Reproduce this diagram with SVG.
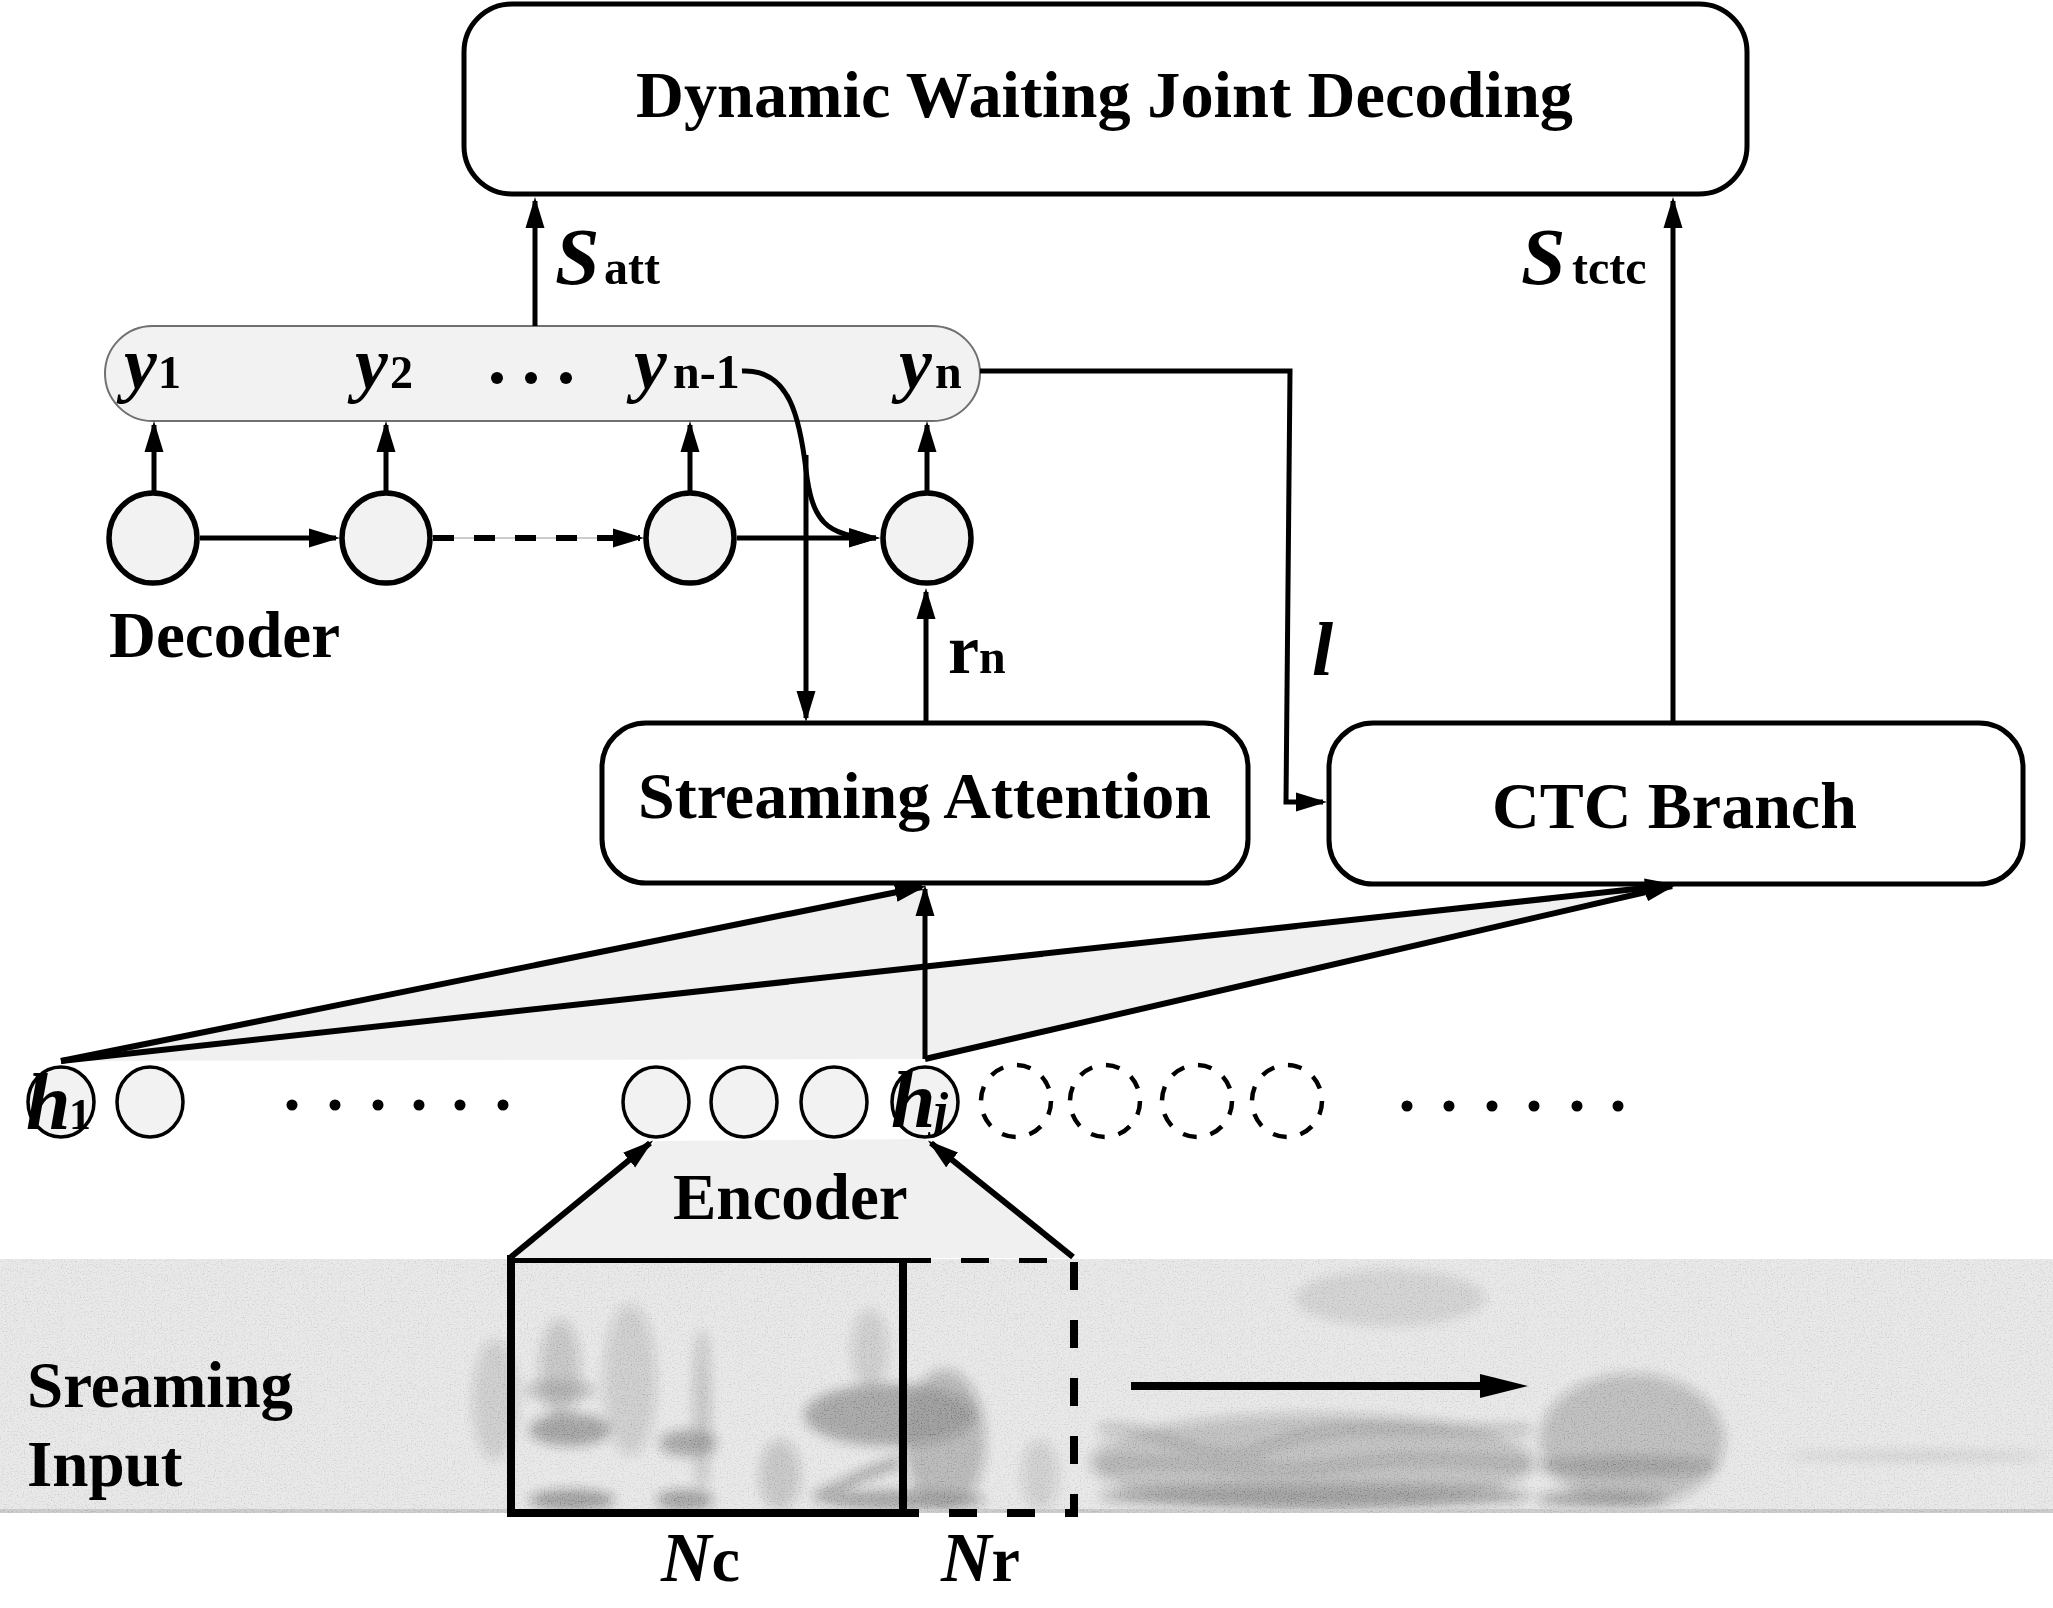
<svg xmlns="http://www.w3.org/2000/svg" width="2053" height="1608" viewBox="0 0 2053 1608">
<style>
text{font-family:"Liberation Serif","Times New Roman",serif;font-weight:bold;fill:#000}
.it{font-style:italic}
.box{fill:#fff;stroke:#000;stroke-width:5}
.dec{fill:#f2f2f2;stroke:#000;stroke-width:5.5}
.enc{fill:#f2f2f2;stroke:#000;stroke-width:3.5}
.encd{fill:#fff;stroke:#000;stroke-width:4.5;stroke-dasharray:14 14}
.ln{fill:none;stroke:#000;stroke-width:5}
.fan{fill:none;stroke:#000;stroke-width:6}
.arr{marker-end:url(#ah)}
.sp{fill:#1e1e1e}
.sl{fill:none;stroke:#1e1e1e}
</style>
<defs>
<marker id="ah" markerUnits="userSpaceOnUse" markerWidth="34" markerHeight="22" refX="27" refY="10" orient="auto"><path d="M0,0.5 L31,10 L0,19.5 z" fill="#000"/></marker>
<filter id="noise" x="0" y="0" width="100%" height="100%">
<feTurbulence type="fractalNoise" baseFrequency="0.7" numOctaves="2" seed="11" result="t"/>
<feColorMatrix in="t" type="matrix" values="1.8 0 0 0 0.1  1.8 0 0 0 0.1  1.8 0 0 0 0.1  0 0 0 0 0.32" result="g"/>
<feComposite in="g" in2="SourceGraphic" operator="in" result="gc"/>
<feMerge><feMergeNode in="SourceGraphic"/><feMergeNode in="gc"/></feMerge>
</filter>
<filter id="blur" x="-20%" y="-20%" width="140%" height="140%"><feGaussianBlur stdDeviation="6"/></filter>
<clipPath id="band"><rect x="0" y="1259" width="2053" height="254"/></clipPath>
</defs>

<g id="spectrogram" filter="url(#noise)" clip-path="url(#band)">
<rect x="0" y="1259" width="2053" height="254" fill="#dedede"/>
<g filter="url(#blur)">
<ellipse class="sp" cx="495" cy="1400" rx="22" ry="60" opacity="0.22"/>
<ellipse class="sp" cx="560" cy="1370" rx="20" ry="50" opacity="0.28"/>
<ellipse class="sp" cx="570" cy="1430" rx="40" ry="15" opacity="0.65"/>
<ellipse class="sp" cx="560" cy="1390" rx="35" ry="8" opacity="0.4"/>
<ellipse class="sp" cx="572" cy="1500" rx="42" ry="9" opacity="0.75"/>
<ellipse class="sp" cx="630" cy="1380" rx="26" ry="75" opacity="0.22"/>
<ellipse class="sp" cx="688" cy="1443" rx="28" ry="12" opacity="0.6"/>
<ellipse class="sp" cx="685" cy="1500" rx="28" ry="9" opacity="0.7"/>
<ellipse class="sp" cx="702" cy="1410" rx="8" ry="80" opacity="0.3"/>
<ellipse class="sp" cx="780" cy="1475" rx="20" ry="35" opacity="0.28"/>
<path class="sl" d="M815,1498 C845,1485 870,1470 900,1462" stroke-width="9" opacity="0.65"/>
<ellipse class="sp" cx="890" cy="1415" rx="85" ry="30" opacity="0.6"/>
<ellipse class="sp" cx="905" cy="1500" rx="80" ry="9" opacity="0.65"/>
<ellipse class="sp" cx="945" cy="1440" rx="40" ry="70" opacity="0.4"/>
<ellipse class="sp" cx="870" cy="1350" rx="18" ry="40" opacity="0.22"/>
<ellipse class="sp" cx="1040" cy="1475" rx="18" ry="35" opacity="0.2"/>
<ellipse class="sp" cx="1312" cy="1462" rx="222" ry="48" opacity="0.32"/>
<path class="sl" d="M1100,1430 C1160,1420 1200,1470 1260,1450 C1320,1420 1400,1430 1530,1430" stroke-width="8" opacity="0.4"/>
<path class="sl" d="M1100,1465 C1200,1455 1260,1480 1340,1465 C1420,1455 1470,1460 1530,1465" stroke-width="8" opacity="0.4"/>
<ellipse class="sp" cx="1315" cy="1496" rx="215" ry="11" opacity="0.6"/>
<ellipse class="sp" cx="1632" cy="1440" rx="92" ry="66" opacity="0.35"/>
<ellipse class="sp" cx="1627" cy="1466" rx="90" ry="9" opacity="0.55"/>
<ellipse class="sp" cx="1602" cy="1499" rx="65" ry="7" opacity="0.65"/>
<ellipse class="sp" cx="1390" cy="1298" rx="95" ry="28" opacity="0.15"/>
<ellipse class="sp" cx="1917" cy="1456" rx="131" ry="3" opacity="0.25"/>
</g>
<rect x="0" y="1509" width="2053" height="4" fill="#b0b0b0"/>
</g>

<g id="streaming-input-label">
<text x="27" y="1407" font-size="65">Sreaming</text>
<text x="27" y="1486" font-size="65">Input</text>
</g>

<g id="nc-window">
<rect x="511" y="1259" width="392" height="254" fill="none" stroke="#000" stroke-width="8"/>
<text y="1581"><tspan class="it" x="661" font-size="70">N</tspan><tspan font-size="64">c</tspan></text>
</g>
<g id="nr-window">
<path d="M903,1259 L1074,1259 L1074,1513 L903,1513" fill="none" stroke="#000" stroke-width="8" stroke-dasharray="28 30"/>
<text y="1581"><tspan class="it" x="941" font-size="70">N</tspan><tspan font-size="64">r</tspan></text>
</g>
<g id="stream-arrow">
<line x1="1131" y1="1386" x2="1482" y2="1386" stroke="#000" stroke-width="8"/>
<path d="M1480,1374 L1528,1386 L1480,1398 z" fill="#000"/>
</g>

<g id="encoder">
<path d="M511,1258 L656,1141 L925,1139 L1073,1258 z" fill="#f0f0f0"/>
<text x="673" y="1219" font-size="65">Encoder</text>
</g>

<g id="fan-fill">
<path d="M61,1061 L925,886 L925,967 L1675,885 L925,1059 z" fill="#f0f0f0"/>
</g>

<g id="encoder-states">
<ellipse id="h1" class="enc" cx="61" cy="1102" rx="33" ry="35"/>
<text y="1129"><tspan class="it" x="26" font-size="80">h</tspan><tspan x="69" font-size="44">1</tspan></text>
<ellipse class="enc" cx="150" cy="1102" rx="33" ry="35"/>
<g fill="#000"><circle cx="292" cy="1105" r="5.5"/><circle cx="335" cy="1105" r="5.5"/><circle cx="378" cy="1105" r="5.5"/><circle cx="419" cy="1105" r="5.5"/><circle cx="460" cy="1105" r="5.5"/><circle cx="503" cy="1105" r="5.5"/></g>
<ellipse class="enc" cx="656" cy="1102" rx="33" ry="35"/>
<ellipse class="enc" cx="744" cy="1102" rx="33" ry="35"/>
<ellipse class="enc" cx="834" cy="1102" rx="33" ry="35"/>
<ellipse id="hj" class="enc" cx="925" cy="1102" rx="33" ry="35"/>
<text y="1127"><tspan class="it" x="891" font-size="80">h</tspan><tspan class="it" x="934" font-size="50">j</tspan></text>
<ellipse class="encd" cx="1016" cy="1101" rx="35" ry="36"/>
<ellipse class="encd" cx="1105" cy="1101" rx="35" ry="36"/>
<ellipse class="encd" cx="1197" cy="1101" rx="35" ry="36"/>
<ellipse class="encd" cx="1287" cy="1101" rx="35" ry="36"/>
<g fill="#000"><circle cx="1407" cy="1106" r="5.5"/><circle cx="1449" cy="1106" r="5.5"/><circle cx="1492" cy="1106" r="5.5"/><circle cx="1534" cy="1106" r="5.5"/><circle cx="1577" cy="1106" r="5.5"/><circle cx="1618" cy="1106" r="5.5"/></g>
</g>

<g id="title-box">
<rect class="box" x="464" y="4" width="1283" height="190" rx="48"/>
<text x="636" y="117" font-size="65" textLength="937" lengthAdjust="spacingAndGlyphs">Dynamic Waiting Joint Decoding</text>
</g>

<g id="streaming-attention">
<rect class="box" x="602" y="723" width="646" height="160" rx="44"/>
<text x="638" y="818" font-size="65" textLength="573" lengthAdjust="spacingAndGlyphs">Streaming Attention</text>
</g>

<g id="ctc-branch">
<rect class="box" x="1329" y="723" width="694" height="161" rx="44"/>
<text x="1492" y="828" font-size="66">CTC Branch</text>
</g>

<g id="output-sequence">
<rect x="105" y="326" width="875" height="95" rx="47.5" fill="#f2f2f2" stroke="#707070" stroke-width="2"/>
<text y="388"><tspan class="it" x="124" font-size="74">y</tspan><tspan x="158" font-size="46">1</tspan></text>
<text y="388"><tspan class="it" x="355" font-size="74">y</tspan><tspan x="390" font-size="46">2</tspan></text>
<g fill="#000"><circle cx="497" cy="378" r="6"/><circle cx="531" cy="378" r="6"/><circle cx="566" cy="378" r="6"/></g>
<text y="388"><tspan class="it" x="634" font-size="74">y</tspan><tspan x="673" font-size="48">n-1</tspan></text>
<text y="388"><tspan class="it" x="899" font-size="74">y</tspan><tspan x="935" font-size="48">n</tspan></text>
</g>

<g id="decoder">
<ellipse class="dec" cx="153" cy="538" rx="44" ry="45"/>
<ellipse class="dec" cx="386" cy="538" rx="44" ry="45"/>
<ellipse class="dec" cx="690" cy="538" rx="44" ry="45"/>
<ellipse class="dec" cx="927" cy="538" rx="44" ry="45"/>
<text x="109" y="657" font-size="65">Decoder</text>
</g>

<g id="labels">
<text y="284"><tspan class="it" x="555" font-size="80">S</tspan><tspan x="604" font-size="48">att</tspan></text>
<text y="284"><tspan class="it" x="1521" font-size="80">S</tspan><tspan x="1572" font-size="48">tctc</tspan></text>
<text y="673"><tspan x="948" font-size="70">r</tspan><tspan x="979" font-size="48">n</tspan></text>
<text class="it" x="1312" y="675" font-size="76">l</text>
</g>

<g id="connectors">
<line class="ln arr" x1="535" y1="326" x2="535" y2="201"/>
<line class="ln arr" x1="1673" y1="723" x2="1673" y2="201"/>
<line class="ln arr" x1="154" y1="492" x2="154" y2="425"/>
<line class="ln arr" x1="386" y1="492" x2="386" y2="425"/>
<line class="ln arr" x1="690" y1="492" x2="690" y2="425"/>
<line class="ln arr" x1="927" y1="492" x2="927" y2="425"/>
<line class="ln arr" x1="200" y1="538" x2="336" y2="538"/>
<line x1="432" y1="538" x2="620" y2="538" stroke="#bbb" stroke-width="1.5"/>
<line class="arr" x1="433" y1="538" x2="640" y2="538" stroke="#000" stroke-width="6" stroke-dasharray="21 20"/>
<line class="ln arr" x1="737" y1="538" x2="876" y2="538"/>
<path class="ln arr" d="M742,371 C790,368 800,420 806,470 C812,520 825,537 876,538"/>
<line class="ln arr" x1="806" y1="455" x2="806" y2="718"/>
<line class="ln arr" x1="926" y1="723" x2="926" y2="592"/>
<path class="ln arr" d="M980,371 L1290,371 L1286,802 L1323,802"/>
<line class="fan arr" x1="61" y1="1061" x2="922" y2="887"/>
<line class="fan arr" x1="61" y1="1061" x2="1672" y2="885"/>
<line class="ln arr" x1="925" y1="1059" x2="925" y2="889"/>
<line class="fan arr" x1="925" y1="1059" x2="1672" y2="886"/>
<line class="fan arr" x1="511" y1="1257" x2="650" y2="1143"/>
<line class="fan arr" x1="1073" y1="1257" x2="931" y2="1143"/>
</g>
</svg>
